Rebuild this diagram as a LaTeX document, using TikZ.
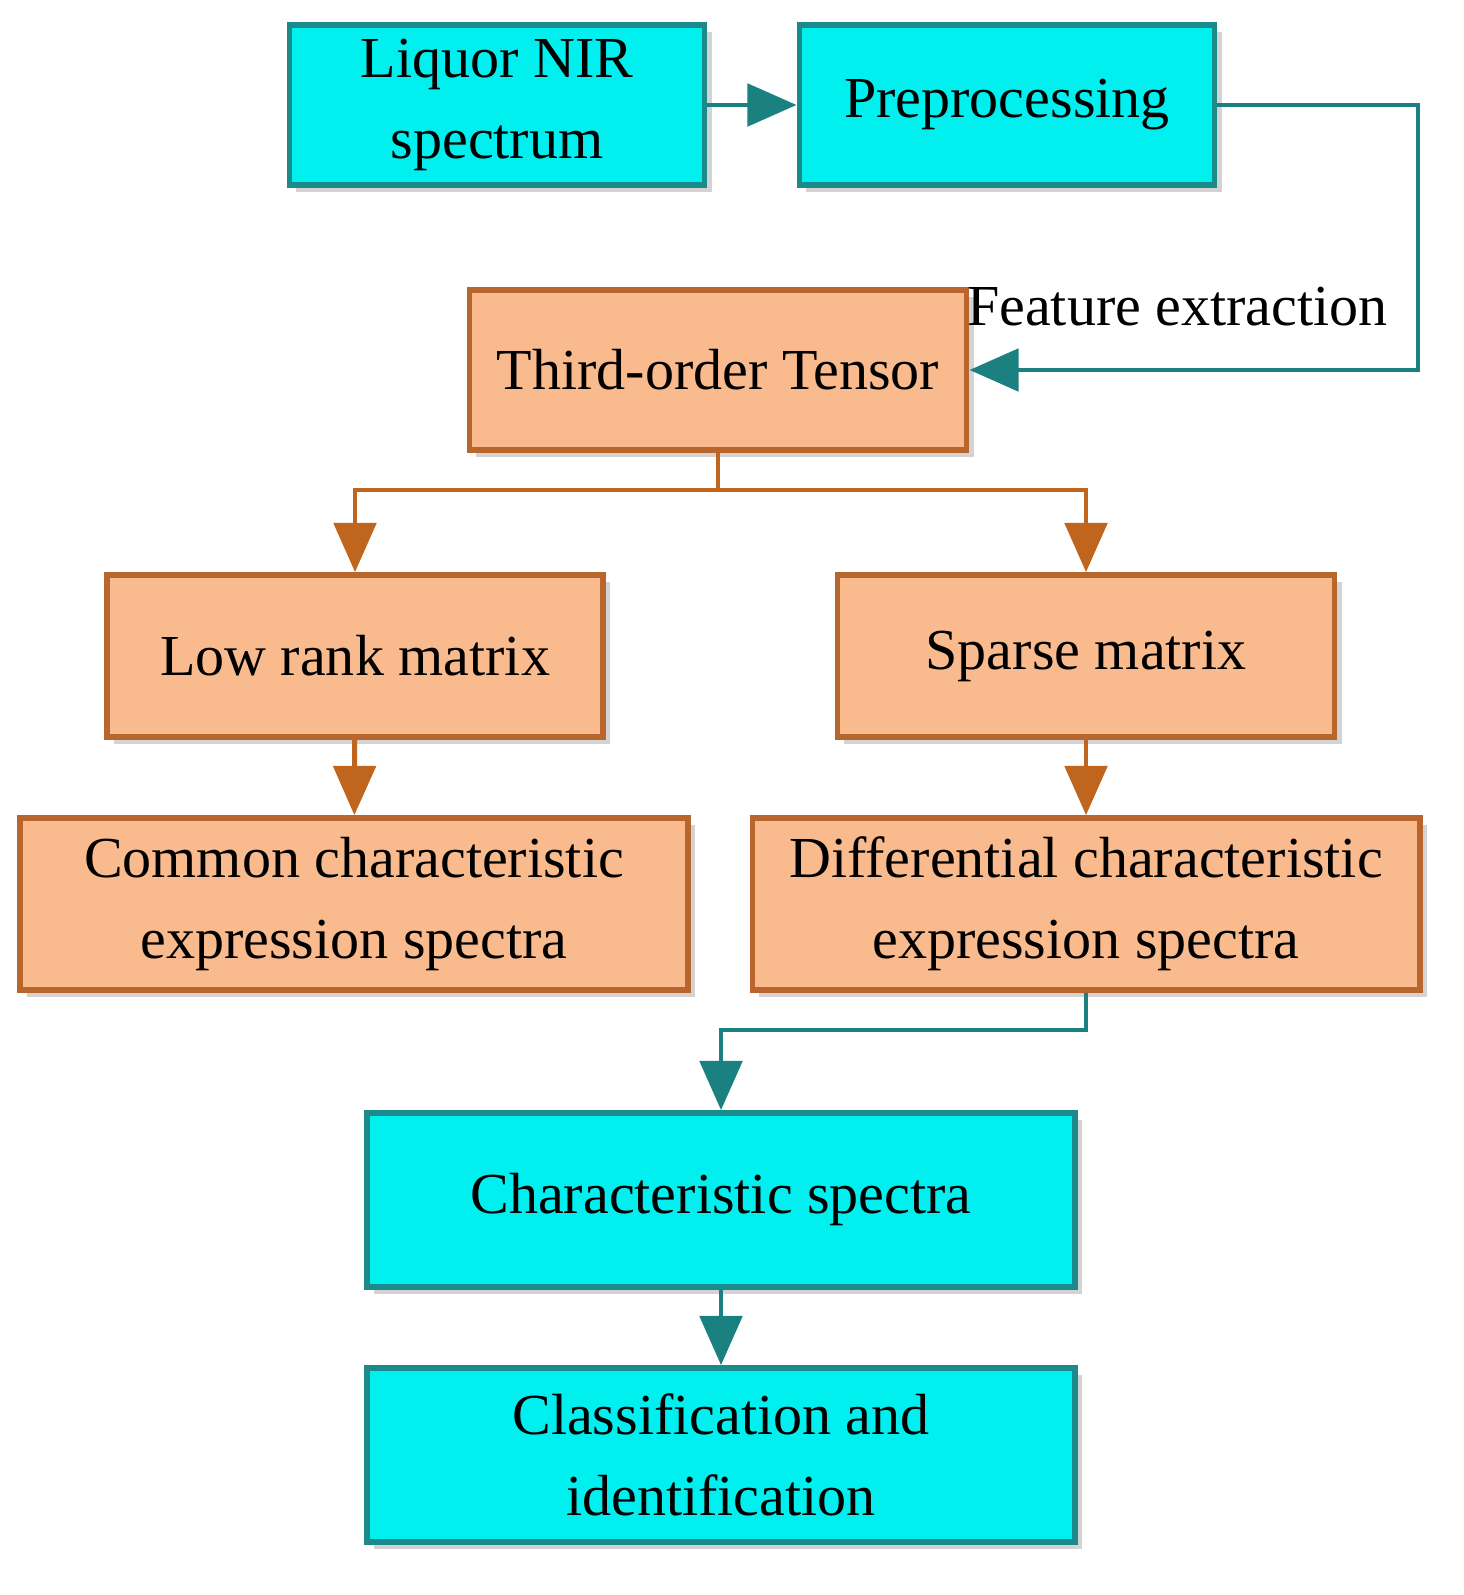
\documentclass[tikz,border=0pt]{standalone}
\usepackage{fontspec}
\setmainfont{Liberation Serif}
\usetikzlibrary{arrows.meta,shadows}
\definecolor{cy}{HTML}{00F0F0}
\definecolor{cyb}{HTML}{1A8A8A}
\definecolor{or}{HTML}{F9BA8E}
\definecolor{orb}{HTML}{B8662E}
\definecolor{teal2}{HTML}{1A8080}
\definecolor{orl}{HTML}{C0651E}
\begin{document}
\begin{tikzpicture}[x=0.01cm,y=-0.01cm,
  box/.style={draw, line width=1.6pt, align=center, inner sep=0pt,
    font=\fontsize{16.5}{23}\selectfont, drop shadow={opacity=.35,shadow xshift=2pt,shadow yshift=-2pt}},
  cbox/.style={box, fill=cy, draw=cyb},
  obox/.style={box, fill=or, draw=orb},
  tarr/.style={draw=teal2, line width=1.4pt, -{Triangle[length=14pt,width=12pt]}},
  oarr/.style={draw=orl, line width=1.4pt, -{Triangle[length=14pt,width=12pt]}}]
\useasboundingbox (0,0) rectangle (1463,1595);
\node[cbox, minimum width=4.15cm, minimum height=1.6cm] (liq) at (497,105) {Liquor NIR\\spectrum};
\node[cbox, minimum width=4.15cm, minimum height=1.6cm] (pre) at (1007,105) {Preprocessing};
\node[obox, minimum width=4.97cm, minimum height=1.6cm] (ten) at (718,370) {Third-order Tensor};
\node[obox, minimum width=4.96cm, minimum height=1.62cm] (low) at (355,656) {Low rank matrix};
\node[obox, minimum width=4.97cm, minimum height=1.62cm] (spa) at (1086,656) {Sparse matrix};
\node[obox, minimum width=6.68cm, minimum height=1.72cm] (com) at (354,904) {Common characteristic\\expression spectra};
\node[obox, minimum width=6.67cm, minimum height=1.72cm] (dif) at (1086,904) {Differential characteristic\\expression spectra};
\node[cbox, minimum width=7.08cm, minimum height=1.74cm] (chr) at (721,1200) {Characteristic spectra};
\node[cbox, minimum width=7.08cm, minimum height=1.74cm] (cls) at (721,1455) {Classification and\\identification};
\coordinate (c1) at (1418,105);
\coordinate (c2) at (1418,370);
\coordinate (sp) at (718,490);
\coordinate (dj) at (1086,1030);
\draw[tarr] (liq) -- (pre);
\draw[tarr] (pre.east) -- (c1) -- (c2) -- (ten.east);
\node[font=\fontsize{16.5}{20}\selectfont, anchor=south east] (fe) at (1400,338) {Feature extraction};
\draw[orl, line width=1.4pt] (ten.south) -- (sp);
\draw[oarr] (sp) -| (low.north);
\draw[oarr] (sp) -| (spa.north);
\draw[oarr] (low) -- (com);
\draw[oarr] (spa) -- (dif);
\draw[tarr] (dif.south) -- (dj) -| (chr.north);
\draw[tarr] (chr) -- (cls);
\end{tikzpicture}
\end{document}
